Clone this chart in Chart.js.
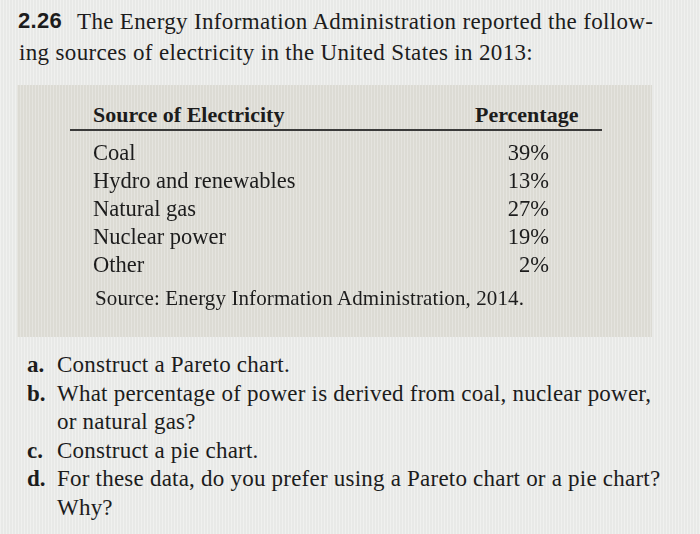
<!DOCTYPE html>
<html>
<head>
<meta charset="utf-8">
<script src="https://cdn.jsdelivr.net/npm/chart.js@4/dist/chart.umd.min.js"></script>
<style>
  html, body { margin: 0; padding: 0; }
  body {
    width: 700px; height: 534px; position: relative; overflow: hidden;
    background: #e8e9e7 repeating-linear-gradient(90deg, rgba(255,255,255,0.35) 0 1px, rgba(0,0,0,0) 1px 3px);
    font-family: 'Liberation Serif', 'Times New Roman', serif;
    color: #1c1c1c;
  }
  .abs { position: absolute; white-space: nowrap; }
  .num { font-family: 'Liberation Sans', Arial, sans-serif; font-weight: bold; font-size: 22px; letter-spacing: 0.3px; }
  .line { font-size: 23px; line-height: 31px; letter-spacing: 0.34px; }
  #box {
    position: absolute; left: 17px; top: 85px; width: 635px; height: 252px;
    background: #dcdbd4 repeating-linear-gradient(90deg, rgba(255,255,255,0.25) 0 1px, rgba(0,0,0,0) 1px 3px);
  }
  .head { font-size: 22px; font-weight: bold; line-height: 28px; }
  #rule { position: absolute; left: 70px; top: 129px; width: 532px; height: 2px; background: #3a3a3a; }
  #chartWrap { position: absolute; left: 93px; top: 127px; width: 456px; height: 166px; }
  .note { font-size: 21px; line-height: 28px; letter-spacing: 0.1px; }
  .q { font-size: 23px; line-height: 28.6px; letter-spacing: 0.22px; }
  .q b { display: inline-block; width: 30px; letter-spacing: 0; }
</style>
</head>
<body>
<div class="abs" style="left:18px; top:8px;"><span class="num">2.26</span></div>
<div class="abs line" style="left:77px; top:6px;">The Energy Information Administration reported the follow-</div>
<div class="abs line" style="left:19px; top:37px;">ing sources of electricity in the United States in 2013:</div>

<div id="box"></div>
<div class="abs head" style="left:93px; top:101px;">Source of Electricity</div>
<div class="abs head" style="left:475px; top:101px;">Percentage</div>
<div id="rule"></div>
<div id="chartWrap"><canvas id="tableChart"></canvas></div>
<div class="abs note" style="left:95px; top:284px;">Source: Energy Information Administration, 2014.</div>

<div class="abs q" style="left:27px; top:351px;">
  <div><b>a.</b>Construct a Pareto chart.</div>
  <div><b>b.</b>What percentage of power is derived from coal, nuclear power,</div>
  <div><b></b>or natural gas?</div>
  <div><b>c.</b>Construct a pie chart.</div>
  <div><b>d.</b>For these data, do you prefer using a Pareto chart or a pie chart?</div>
  <div><b></b>Why?</div>
</div>

<script>
// table data: sources and their share of US electricity, 2013
const sources = ['Coal', 'Hydro and renewables', 'Natural gas', 'Nuclear power', 'Other'];
const shares = [39, 13, 27, 19, 2];
const shareLabels = ['39%', '13%', '27%', '19%', '2%'];

const textColor = '#1c1c1c';
const cellFont = { family: "'Liberation Serif', 'Times New Roman', serif", size: 22.5 };

// the table rows are drawn as a horizontal bar chart with hidden bars;
// the left category axis holds the source names, the right one the percentages
const ctx = document.getElementById('tableChart').getContext('2d');
const tableChart = new Chart(ctx, {
    type: 'bar',
    data: {
        labels: sources,
        datasets: [{
            label: 'Percentage',
            data: shares,
            backgroundColor: 'rgba(0,0,0,0)',
            borderWidth: 0
        }]
    },
    options: {
        indexAxis: 'y',
        responsive: true,
        maintainAspectRatio: false,
        animation: false,
        layout: { padding: 0 },
        plugins: {
            legend: { display: false },
            tooltip: { enabled: false }
        },
        scales: {
            x: { display: false, min: 0, max: 100 },
            y: {
                position: 'left',
                grid: { display: false },
                border: { display: false },
                ticks: { crossAlign: 'far', padding: 0, autoSkip: false, color: textColor, font: cellFont },
                // layout caps each side axis at a quarter of the width, widen it so names are not clipped
                afterFit: scale => { scale.width = 230; }
            },
            pct: {
                type: 'category',
                position: 'right',
                labels: shareLabels,
                offset: true,
                grid: { display: false },
                border: { display: false },
                ticks: { crossAlign: 'far', padding: 0, autoSkip: false, color: textColor, font: cellFont },
                afterFit: scale => { scale.width = 60; }
            }
        }
    }
});
</script>
</body>
</html>
